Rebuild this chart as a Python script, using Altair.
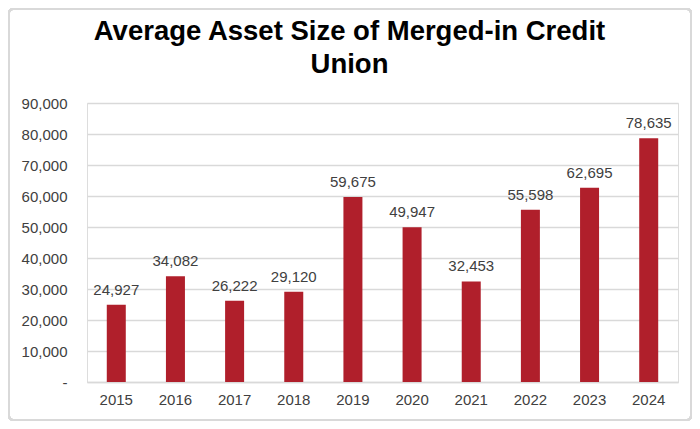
import altair as alt
import pandas as pd

years = ["2015", "2016", "2017", "2018", "2019", "2020", "2021", "2022", "2023", "2024"]
values = [24927, 34082, 26222, 29120, 59675, 49947, 32453, 55598, 62695, 78635]

df = pd.DataFrame({"year": years, "value": values})

W, H = 591, 279
PL, PT, PR, PB = 79, 95, 14, 39

base = alt.Chart(df).encode(
    x=alt.X("year:N", sort=years, title=None,
            axis=alt.Axis(labelAngle=0, ticks=False, labelPadding=10, labelFontSize=15,
                          labelColor="#404040", labelFont="Liberation Sans",
                          domainColor="#d9d9d9", domainWidth=1.5),
            scale=alt.Scale(paddingInner=0.67, paddingOuter=0.33)),
    y=alt.Y("value:Q", title=None,
            scale=alt.Scale(domain=[0, 90000]),
            axis=alt.Axis(values=list(range(0, 90001, 10000)), ticks=False, domain=False,
                          labelPadding=20, labelFontSize=15, labelColor="#404040",
                          labelFont="Liberation Sans",
                          labelExpr="datum.value == 0 ? '-\u00a0\u00a0\u00a0' : format(datum.value, ',')",
                          gridColor="#d9d9d9", gridWidth=1.5)),
)

bars = base.mark_bar(color="#B01F2B", size=19)
labels = base.mark_text(baseline="bottom", dy=-7, fontSize=15, color="#404040",
                        font="Liberation Sans").encode(text=alt.Text("value:Q", format=","))

border = alt.Chart(df).mark_rect(filled=False, stroke="#d9d9d9", strokeWidth=2, cornerRadius=4).encode(
    x=alt.value(-PL + 1), x2=alt.value(W + PR - 1), y=alt.value(-PT + 1), y2=alt.value(H + PB - 1)
)

chart = alt.layer(border, bars, labels).properties(
    width=W, height=H,
    autosize=alt.AutoSizeParams(type="none"),
    padding={"left": PL, "top": PT, "right": PR, "bottom": PB},
    title=alt.TitleParams(["Average Asset Size of Merged-in Credit", "Union"],
                          font="Liberation Sans", fontSize=27.5, fontWeight="bold", color="#000000",
                          anchor="middle", dx=-33, offset=-70, lineHeight=33),
).configure_view(stroke=None).configure(background="white")

chart.save("out.html", embed_options={"renderer": "svg", "actions": False})
